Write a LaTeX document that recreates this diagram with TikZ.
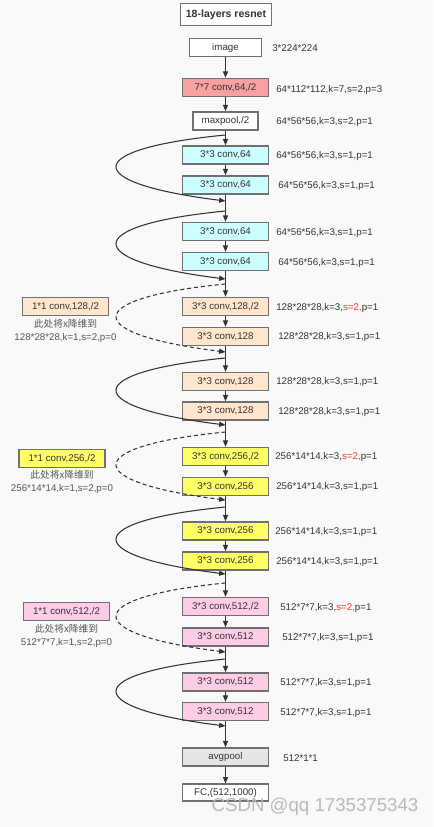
\documentclass[tikz,border=0pt]{standalone}
\usepackage{fontspec}
\setmainfont{Liberation Sans}
\newfontfamily\cjk{Noto Sans CJK SC}
\usetikzlibrary{arrows.meta}
\definecolor{bggray}{HTML}{F9F9F9}
\definecolor{boxgray}{HTML}{707070}
\definecolor{inkgray}{HTML}{333333}
\definecolor{notegray}{HTML}{555555}
\definecolor{hired}{HTML}{FF3333}
\definecolor{convseven}{HTML}{F9A0A0}
\definecolor{cyanblock}{HTML}{CCFFFF}
\definecolor{orangeblock}{HTML}{FFE6CC}
\definecolor{yellowblock}{HTML}{FFFF66}
\definecolor{pinkblock}{HTML}{FFCCE6}
\definecolor{poolgray}{HTML}{E6E6E6}
\begin{document}
\begin{tikzpicture}[x=0.75pt, y=-0.75pt,
            font=\fontsize{7.3}{9.75}\selectfont, text=inkgray,
            layer/.style={draw=boxgray, line width=1.1pt, minimum width=64.5pt,
                minimum height=13.5pt, inner sep=0pt},
            info/.style={anchor=west, inner sep=0pt},
            note/.style={align=center, inner sep=0pt, text=notegray},
            flow/.style={draw=inkgray, line width=0.8pt, -{Triangle[length=4.8pt,width=3.8pt]}},
            skip/.style={flow},
            skipdown/.style={flow, dash pattern=on 3pt off 2.2pt}
        ]
            \fill[bggray] (0,0) rectangle (433,827);
            \useasboundingbox (0,0) rectangle (433,827);

            \node[layer, minimum width=68pt, minimum height=16.5pt, fill=white,
                font=\fontsize{7.9}{9}\selectfont\bfseries] (title) at (226,14.5) {18-layers resnet};

            \node[layer, minimum width=54pt, fill=white] (image) at (225.5,47.5) {image};
            \node[layer, fill=convseven] (conv7) at (225.5,87.5) {7*7 conv,64,/2};
            \node[layer, minimum width=48.5pt, fill=white] (maxpool) at (225.5,121) {maxpool,/2};

            \node[layer, fill=cyanblock] (c64a) at (225.5,155) {3*3 conv,64};
            \node[layer, fill=cyanblock] (c64b) at (225.5,185) {3*3 conv,64};
            \node[layer, fill=cyanblock] (c64c) at (225.5,231.5) {3*3 conv,64};
            \node[layer, fill=cyanblock] (c64d) at (225.5,261.5) {3*3 conv,64};

            \node[layer, fill=orangeblock] (c128a) at (225.5,306.5) {3*3 conv,128,/2};
            \node[layer, fill=orangeblock] (c128b) at (225.5,336.5) {3*3 conv,128};
            \node[layer, fill=orangeblock] (c128c) at (225.5,381.5) {3*3 conv,128};
            \node[layer, fill=orangeblock] (c128d) at (225.5,411) {3*3 conv,128};

            \node[layer, fill=yellowblock] (c256a) at (225.5,456.5) {3*3 conv,256,/2};
            \node[layer, fill=yellowblock] (c256b) at (225.5,486.5) {3*3 conv,256};
            \node[layer, fill=yellowblock] (c256c) at (225.5,531) {3*3 conv,256};
            \node[layer, fill=yellowblock] (c256d) at (225.5,561) {3*3 conv,256};

            \node[layer, fill=pinkblock] (c512a) at (225.5,606.5) {3*3 conv,512,/2};
            \node[layer, fill=pinkblock] (c512b) at (225.5,637) {3*3 conv,512};
            \node[layer, fill=pinkblock] (c512c) at (225.5,682) {3*3 conv,512};
            \node[layer, fill=pinkblock] (c512d) at (225.5,711.5) {3*3 conv,512};

            \node[layer, fill=poolgray] (avgpool) at (225.5,757) {avgpool};
            \node[layer, minimum height=12.5pt, fill=white] (fc) at (225.5,792.5) {FC,(512,1000)};

            % shapes on the right
            \node[info] (s_image) at (272,48) {3*224*224};
            \node[info] (s_conv7) at (276,90) {64*112*112,k=7,s=2,p=3};
            \node[info] (s_maxpool) at (276,122) {64*56*56,k=3,s=2,p=1};
            \node[info] (s_c64a) at (276,156) {64*56*56,k=3,s=1,p=1};
            \node[info] (s_c64b) at (278,186) {64*56*56,k=3,s=1,p=1};
            \node[info] (s_c64c) at (276,233) {64*56*56,k=3,s=1,p=1};
            \node[info] (s_c64d) at (278,263) {64*56*56,k=3,s=1,p=1};
            \node[info] (s_c128a) at (276,308) {128*28*28,k=3,\textcolor{hired}{s=2,}p=1};
            \node[info] (s_c128b) at (278,337) {128*28*28,k=3,s=1,p=1};
            \node[info] (s_c128c) at (276,382) {128*28*28,k=3,s=1,p=1};
            \node[info] (s_c128d) at (278,412) {128*28*28,k=3,s=1,p=1};
            \node[info] (s_c256a) at (275,457) {256*14*14,k=3,\textcolor{hired}{s=2,}p=1};
            \node[info] (s_c256b) at (276,487) {256*14*14,k=3,s=1,p=1};
            \node[info] (s_c256c) at (275,532) {256*14*14,k=3,s=1,p=1};
            \node[info] (s_c256d) at (276,562) {256*14*14,k=3,s=1,p=1};
            \node[info] (s_c512a) at (280,608) {512*7*7,k=3,\textcolor{hired}{s=2,}p=1};
            \node[info] (s_c512b) at (282,638) {512*7*7,k=3,s=1,p=1};
            \node[info] (s_c512c) at (280,683) {512*7*7,k=3,s=1,p=1};
            \node[info] (s_c512d) at (280,713) {512*7*7,k=3,s=1,p=1};
            \node[info] (s_avgpool) at (283,758) {512*1*1};

            % downsample boxes on the left
            \node[layer, fill=orangeblock] (ds128) at (65.5,306.5) {1*1 conv,128,/2};
            \node[note] (n128) at (65.5,330.5) {{\cjk 此处将x降维到}\\128*28*28,k=1,s=2,p=0};
            \node[layer, fill=yellowblock] (ds256) at (62,458.5) {1*1 conv,256,/2};
            \node[note] (n256) at (62,482) {{\cjk 此处将x降维到}\\256*14*14,k=1,s=2,p=0};
            \node[layer, fill=pinkblock] (ds512) at (66.5,611.5) {1*1 conv,512,/2};
            \node[note] (n512) at (66.5,635.5) {{\cjk 此处将x降维到}\\512*7*7,k=1,s=2,p=0};

            % main path
            \draw[flow] (image) -- (conv7);
            \draw[flow] (conv7) -- (maxpool);
            \draw[flow] (maxpool) -- (c64a);
            \draw[flow] (c64a) -- (c64b);
            \draw[flow] (c64b) -- (c64c);
            \draw[flow] (c64c) -- (c64d);
            \draw[flow] (c64d) -- (c128a);
            \draw[flow] (c128a) -- (c128b);
            \draw[flow] (c128b) -- (c128c);
            \draw[flow] (c128c) -- (c128d);
            \draw[flow] (c128d) -- (c256a);
            \draw[flow] (c256a) -- (c256b);
            \draw[flow] (c256b) -- (c256c);
            \draw[flow] (c256c) -- (c256d);
            \draw[flow] (c256d) -- (c512a);
            \draw[flow] (c512a) -- (c512b);
            \draw[flow] (c512b) -- (c512c);
            \draw[flow] (c512c) -- (c512d);
            \draw[flow] (c512d) -- (avgpool);
            \draw[flow] (avgpool) -- (fc);

            % shortcut curves
            \coordinate (out1) at (225.5,135);   \coordinate (in1) at (225.5,201);
            \coordinate (out2) at (225.5,211);   \coordinate (in2) at (225.5,279);
            \coordinate (out3) at (225.5,284);   \coordinate (in3) at (225.5,352);
            \coordinate (out4) at (225.5,358);   \coordinate (in4) at (225.5,425);
            \coordinate (out5) at (225.5,432);   \coordinate (in5) at (225.5,500);
            \coordinate (out6) at (225.5,507);   \coordinate (in6) at (225.5,574);
            \coordinate (out7) at (225.5,583);   \coordinate (in7) at (225.5,652);
            \coordinate (out8) at (225.5,659);   \coordinate (in8) at (225.5,726);

            \draw[skip] (out1) .. controls +(-145,14) and +(-145,-18) .. (in1);
            \draw[skip] (out2) .. controls +(-145,14) and +(-145,-18) .. (in2);
            \draw[skipdown] (out3) .. controls +(-145,14) and +(-145,-18) .. (in3);
            \draw[skip] (out4) .. controls +(-145,14) and +(-145,-18) .. (in4);
            \draw[skipdown] (out5) .. controls +(-145,14) and +(-145,-18) .. (in5);
            \draw[skip] (out6) .. controls +(-145,14) and +(-145,-18) .. (in6);
            \draw[skipdown] (out7) .. controls +(-145,14) and +(-145,-18) .. (in7);
            \draw[skip] (out8) .. controls +(-145,14) and +(-145,-18) .. (in8);

            \node[text=gray!55, font=\fontsize{14}{16}\selectfont, inner sep=0pt] (mark) at (315,807) {CSDN @qq 1735375343};
        \end{tikzpicture}
\end{document}
